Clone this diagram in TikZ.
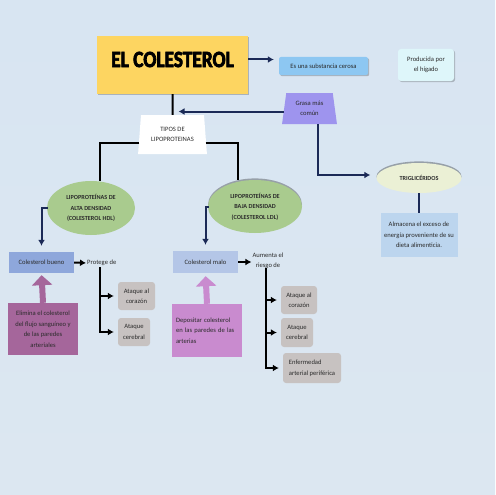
\documentclass[tikz,border=0pt]{standalone}
\usepackage{fontspec}
\setmainfont{Carlito}
\newfontfamily\titlefont[FakeStretch=0.83]{Carlito}
\usetikzlibrary{shapes.geometric,arrows.meta,shadows}
\definecolor{bgA}{HTML}{D8E5F2}
\definecolor{bgB}{HTML}{E4EDDA}
\definecolor{bgC}{HTML}{DCE7F1}
\definecolor{titlefill}{HTML}{FDD561}
\definecolor{cerosa}{HTML}{8DC7F2}
\definecolor{producida}{HTML}{DEF6FA}
\definecolor{grasa}{HTML}{9E94EE}
\definecolor{ellgreen}{HTML}{A9CB8E}
\definecolor{trig}{HTML}{EBF0D5}
\definecolor{almacena}{HTML}{BCD5EE}
\definecolor{bueno}{HTML}{8EA7DB}
\definecolor{malo}{HTML}{B4C6E7}
\definecolor{grayb}{HTML}{C7C2C1}
\definecolor{elimina}{HTML}{A5669B}
\definecolor{depositar}{HTML}{C98BCF}
\definecolor{navy}{HTML}{1B2A57}
\definecolor{txt}{HTML}{2B2B2B}
\newcommand{\heavytext}[1]{\special{pdf:literal direct 2 Tr 0.7 w}#1\special{pdf:literal direct 0 Tr}}
\begin{document}
\begin{tikzpicture}[x=1pt,y=-1pt,
  every node/.style={font=\fontsize{6.6}{10.5}\selectfont, text=txt, inner sep=1pt, align=center},
  myshadow/.style={drop shadow={shadow xshift=1.2pt, shadow yshift=-1.2pt, fill=black, opacity=0.22}},
  topshadow/.style={drop shadow={shadow xshift=0pt, shadow yshift=1.6pt, fill=black, opacity=0.3}},
  graybox/.style={fill=grayb, rounded corners=3pt},
  ellbox/.style={ellipse, fill=ellgreen, font=\bfseries\fontsize{6.2}{10.6}\selectfont},
  trap/.style={trapezium, trapezium stretches=true},
  navyline/.style={draw=navy, line width=2pt},
  blkline/.style={draw=black, line width=2pt},
  tip/.style={-{Latex[length=6pt,width=7pt]}},
  bigarrow/.style={line width=6pt, -{Triangle[width=20pt,length=10pt]}}
]
\useasboundingbox (0,0) rectangle (495,495);
\shade[top color=bgA, middle color=bgB, bottom color=bgC] (0,0) rectangle (495,495);

% nodes
\node[fill=titlefill, minimum width=151pt, minimum height=58pt, myshadow] (title) at (172.5,65) {};
\node[font=\titlefont\bfseries\fontsize{23.3}{24}\selectfont, text=black] (titletext) at (172.5,59.5) {\heavytext{EL COLESTEROL}};
\node[fill=cerosa, rounded corners=2pt, minimum width=89pt, minimum height=18pt, myshadow] (cerosa) at (323.5,66) {Es una substancia cerosa};
\node[fill=producida, rounded corners=3pt, minimum width=56pt, minimum height=32pt, myshadow] (producida) at (426,65) {Producida por\\el hígado};
\node[trap, trapezium left angle=81, trapezium right angle=81, fill=grasa, minimum width=55pt, minimum height=31pt] (grasa) at (309.5,108.5) {Grasa más\\común};
\node[trap, trapezium left angle=83, trapezium right angle=83, fill=white, minimum width=69pt, minimum height=39pt] (tipos) at (172.5,134.5) {TIPOS DE\\LIPOPROTEINAS};
\node[ellbox, minimum width=88pt, minimum height=54pt] (hdl) at (91,208) {LIPOPROTEÍNAS DE\\ALTA DENSIDAD\\(COLESTEROL HDL)};
\node[ellbox, topshadow, minimum width=94pt, minimum height=53pt] (ldl) at (255,206.5) {LIPOPROTEÍNAS DE\\BAJA DENSIDAD\\(COLESTEROL LDL)};
\node[ellipse, fill=trig, topshadow, minimum width=85pt, minimum height=30pt, font=\bfseries\fontsize{6.2}{8}\selectfont] (trig) at (419,178) {TRIGLICÉRIDOS};
\node[fill=almacena, minimum width=77pt, minimum height=44pt] (almacena) at (419,235) {Almacena el exceso de\\energía proveniente de su\\dieta alimenticia.};
\node[fill=bueno, minimum width=65pt, minimum height=21pt] (bueno) at (41.5,262.5) {Colesterol bueno};
\node[anchor=west] (protege) at (86,263) {Protege de};
\node[graybox, minimum width=37pt, minimum height=28pt] (cor1) at (136.5,296) {Ataque al\\corazón};
\node[graybox, minimum width=32pt, minimum height=28pt] (cer1) at (134,332) {Ataque\\cerebral};
\node[fill=elimina, minimum width=70pt, minimum height=52pt] (elimina) at (43,329) {Elimina el colesterol\\del flujo sanguíneo y\\de las paredes\\arteriales};
\node[fill=malo, minimum width=65pt, minimum height=22pt] (malo) at (205.5,262) {Colesterol malo};
\node (aumenta) at (268,261) {Aumenta el\\riesgo de};
\node[graybox, minimum width=36pt, minimum height=28pt] (cor2) at (299,300) {Ataque al\\corazón};
\node[graybox, minimum width=32pt, minimum height=29pt] (cer2) at (297,332.5) {Ataque\\cerebral};
\node[graybox, minimum width=58pt, minimum height=30pt, align=left] (enf) at (312,368) {Enfermedad\\arterial periférica};
\node[fill=depositar, minimum width=70pt, minimum height=53pt, align=left, text width=62pt] (depositar) at (207,330.5) {Depositar colesterol en las paredes de las arterias\\[6pt]};

% connectors
\draw[navyline, tip, shorten >=5pt] (title.east |- titletext) -- (cerosa.west |- titletext);
\draw[navyline, tip, shorten >=6pt] ([yshift=-3pt]grasa.west) -- ([yshift=-3pt]grasa.west -| title.south);
\draw[blkline] (title.south) -- (tipos.north);
\draw[blkline] ([yshift=-8pt]tipos.west) -| ([xshift=9pt]hdl.north);
\draw[blkline] ([yshift=-8pt]tipos.east) -| ([xshift=-17pt]ldl.north);
\draw[navyline, tip, shorten >=6pt] ([xshift=8.5pt]grasa.south) |- ([yshift=3pt]trig.west);
\draw[navyline] (trig.south) -- (almacena.north);
\draw[navyline, tip, shorten >=6pt] ([xshift=1pt]hdl.west) -| (bueno.north);
\draw[navyline, tip, shorten >=6pt] ([xshift=1pt]ldl.west) -| (malo.north);
\draw[blkline, tip] (bueno.east) -- (protege.west);
\draw[blkline, tip] (malo.east) -- (malo.east -| aumenta.west);
\coordinate (pv) at ([xshift=-2pt]protege.south);
\draw[blkline, tip, shorten >=4pt] (pv) |- (cer1.west);
\draw[blkline, tip, shorten >=4pt] (pv |- cor1.west) -- (cor1.west);
\coordinate (av) at ([xshift=-2pt,yshift=2pt]aumenta.south);
\draw[blkline, tip, shorten >=4pt] (av) |- (enf.west);
\draw[blkline, tip, shorten >=4pt] (av |- cor2.west) -- (cor2.west);
\draw[blkline, tip, shorten >=4pt] (av |- cer2.west) -- (cer2.west);
\draw[bigarrow, draw=elimina, fill=elimina, shorten >=2pt] (elimina.north) -- (bueno.south);
\draw[bigarrow, draw=depositar, fill=depositar, shorten >=3pt] (depositar.north) -- (malo.south);
\end{tikzpicture}
\end{document}
